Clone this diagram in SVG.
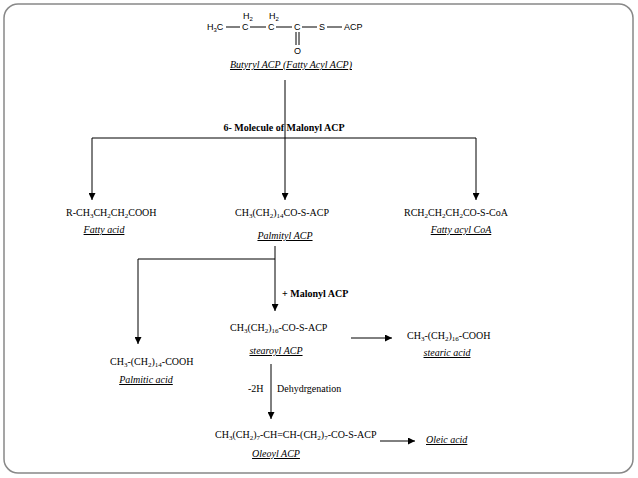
<svg xmlns="http://www.w3.org/2000/svg" width="638" height="478" viewBox="0 0 638 478">
<defs><marker id="a" viewBox="0 0 10 10" refX="10" refY="5" markerWidth="7" markerHeight="7" markerUnits="userSpaceOnUse" orient="auto"><path d="M0,0L10,5L0,10z" fill="#000"/></marker></defs>
<style>
.t{font-family:"Times New Roman","Liberation Serif","DejaVu Serif",serif;font-size:10px;fill:#000}
.i{font-style:italic;text-decoration:underline}
.b{font-weight:bold}
.s{font-family:"Liberation Sans",Arial,sans-serif;font-size:9px}
.l{stroke:#000;stroke-width:1;fill:none}
</style>
<rect x="4" y="4" width="629" height="469" rx="14" fill="#fff" stroke="#888" stroke-width="1.5"/>
<g id="butyryl">
<text class="t s" x="207" y="30">H<tspan font-size="6" dy="2">3</tspan><tspan dy="-2">C</tspan></text>
<line class="l" x1="226" y1="27" x2="240" y2="27"/>
<text class="t s" x="242" y="30">C</text><text class="t s" x="243" y="19">H<tspan font-size="6" dy="2">2</tspan></text>
<line class="l" x1="250" y1="27" x2="266" y2="27"/>
<text class="t s" x="268" y="30">C</text><text class="t s" x="269" y="19">H<tspan font-size="6" dy="2">2</tspan></text>
<line class="l" x1="276" y1="27" x2="292" y2="27"/>
<text class="t s" x="294" y="30">C</text>
<line class="l" x1="302" y1="27" x2="317" y2="27"/>
<text class="t s" x="319" y="30">S</text>
<line class="l" x1="327" y1="27" x2="342" y2="27"/>
<text class="t s" x="344" y="30">ACP</text>
<line class="l" x1="296" y1="32" x2="296" y2="45"/><line class="l" x1="299" y1="32" x2="299" y2="45"/>
<text class="t s" x="294" y="54">O</text>
<text class="t i" x="291" y="68" text-anchor="middle">Butyryl ACP (Fatty Acyl ACP)</text>
</g>
<g id="connectors">
<line class="l" x1="285" y1="80" x2="285" y2="200" marker-end="url(#a)"/>
<line class="l" x1="92" y1="138" x2="92" y2="200" marker-end="url(#a)"/>
<polyline class="l" points="92,138 476,138 476,200" marker-end="url(#a)"/>
<line class="l" x1="275" y1="246" x2="275" y2="311" marker-end="url(#a)"/>
<polyline class="l" points="275,259 138,259 138,344" marker-end="url(#a)"/>
<line class="l" x1="351" y1="338" x2="392" y2="338" marker-end="url(#a)"/>
<line class="l" x1="271" y1="364" x2="271" y2="419" marker-end="url(#a)"/>
<line class="l" x1="380" y1="441" x2="415" y2="441" marker-end="url(#a)"/>
</g>
<text class="t b" x="284" y="131" text-anchor="middle">6- Molecule of Malonyl ACP</text>
<g id="fattyacid"><text class="t" x="66" y="216">R-CH<tspan font-size="7" dy="2">3</tspan><tspan dy="-2">CH</tspan><tspan font-size="7" dy="2">2</tspan><tspan dy="-2">CH</tspan><tspan font-size="7" dy="2">2</tspan><tspan dy="-2">COOH</tspan></text>
<text class="t i" x="104" y="233" text-anchor="middle">Fatty acid</text></g>
<g id="palmityl"><text class="t" x="235" y="216">CH<tspan font-size="7" dy="2">3</tspan><tspan dy="-2">(CH</tspan><tspan font-size="7" dy="2">2</tspan><tspan dy="-2">)</tspan><tspan font-size="7" dy="2">14</tspan><tspan dy="-2">CO-S-ACP</tspan></text>
<text class="t i" x="285" y="239" text-anchor="middle">Palmityl ACP</text></g>
<g id="acylcoa"><text class="t" x="404" y="216">RCH<tspan font-size="7" dy="2">2</tspan><tspan dy="-2">CH</tspan><tspan font-size="7" dy="2">2</tspan><tspan dy="-2">CH</tspan><tspan font-size="7" dy="2">2</tspan><tspan dy="-2">CO-S-CoA</tspan></text>
<text class="t i" x="461" y="233" text-anchor="middle">Fatty acyl CoA</text></g>
<text class="t b" x="282" y="297">+ Malonyl ACP</text>
<g id="stearoyl"><text class="t" x="230" y="331">CH<tspan font-size="7" dy="2">3</tspan><tspan dy="-2">(CH</tspan><tspan font-size="7" dy="2">2</tspan><tspan dy="-2">)</tspan><tspan font-size="7" dy="2">16</tspan><tspan dy="-2">-CO-S-ACP</tspan></text>
<text class="t i" x="276" y="354" text-anchor="middle">stearoyl ACP</text></g>
<g id="stearic"><text class="t" x="407" y="339">CH<tspan font-size="7" dy="2">3</tspan><tspan dy="-2">-(CH</tspan><tspan font-size="7" dy="2">2</tspan><tspan dy="-2">)</tspan><tspan font-size="7" dy="2">16</tspan><tspan dy="-2">-COOH</tspan></text>
<text class="t i" x="447" y="356" text-anchor="middle">stearic acid</text></g>
<g id="palmitic"><text class="t" x="110" y="365">CH<tspan font-size="7" dy="2">3</tspan><tspan dy="-2">-(CH</tspan><tspan font-size="7" dy="2">2</tspan><tspan dy="-2">)</tspan><tspan font-size="7" dy="2">14</tspan><tspan dy="-2">-COOH</tspan></text>
<text class="t i" x="146" y="383" text-anchor="middle">Palmitic acid</text></g>
<text class="t" x="248" y="392">-2H</text><text class="t" x="277" y="392">Dehydrgenation</text>
<g id="oleoyl"><text class="t" x="215" y="438">CH<tspan font-size="7" dy="2">3</tspan><tspan dy="-2">(CH</tspan><tspan font-size="7" dy="2">2</tspan><tspan dy="-2">)</tspan><tspan font-size="7" dy="2">7</tspan><tspan dy="-2">-CH=CH-(CH</tspan><tspan font-size="7" dy="2">2</tspan><tspan dy="-2">)</tspan><tspan font-size="7" dy="2">7</tspan><tspan dy="-2">-CO-S-ACP</tspan></text>
<text class="t i" x="276" y="457" text-anchor="middle">Oleoyl ACP</text></g>
<g id="oleic"><text class="t i" x="426" y="443">Oleic acid</text></g>
</svg>
